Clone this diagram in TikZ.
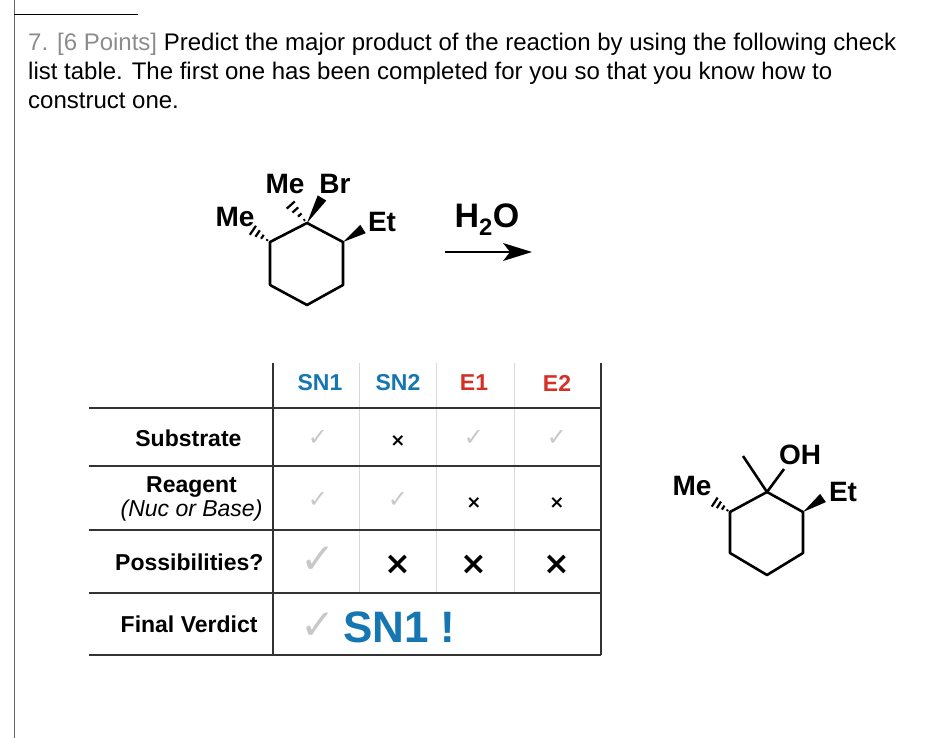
\documentclass[tikz,border=0pt]{standalone}
\usepackage{fontspec}
\setmainfont{Liberation Sans}
\newfontfamily\djsym{DejaVu Sans}
\usetikzlibrary{calc}
\definecolor{sblue}{RGB}{22,118,178}
\definecolor{ered}{RGB}{212,48,38}
\definecolor{ptgray}{RGB}{140,140,140}
\definecolor{ckgray}{RGB}{200,200,200}
\newcommand{\hashb}[2]{\foreach \t in {0.15,0.4,0.65,0.9}{\draw[line width=2.2pt] ($(#1)!\t!(#2)!{\t*6pt}!90:(#2)$) -- ($(#1)!\t!(#2)!{\t*6pt}!-90:(#2)$);}}
\newcommand{\wedgeb}[2]{\fill (#1) -- ($(#2)!5pt!90:(#1)$) -- ($(#2)!5pt!-90:(#1)$) -- cycle;}
\begin{document}
\begin{tikzpicture}[x=1pt,y=-1pt,
  bond/.style={line width=2.6pt,line join=round},
  atom/.style={font=\fontsize{28}{28}\bfseries\selectfont,inner sep=0pt},
  hdr/.style={font=\fontsize{23}{23}\bfseries\selectfont},
  rowl/.style={font=\fontsize{23}{26}\bfseries\selectfont,anchor=east,align=center},
  ck/.style={font=\djsym\fontsize{24}{24}\selectfont,text=ckgray},
  bigck/.style={font=\djsym\fontsize{42}{42}\bfseries\selectfont,text=ckgray},
  sx/.style={font=\djsym\fontsize{18}{18}\bfseries\selectfont},
  bx/.style={font=\djsym\fontsize{32}{32}\bfseries\selectfont},
  tline/.style={line width=1.1pt,draw=black!80},
  gline/.style={line width=0.8pt,draw=black!15}]
\useasboundingbox (0,0) rectangle (940,738);
% frame
\draw[line width=0.8pt,black!60] (14,0) -- (14,738);
\draw[line width=1pt] (14,15) -- (138,15);
% question text
\node[anchor=base west,inner sep=0pt,font=\fontsize{24}{24}\selectfont] (q1) at (28,51) {\textcolor{ptgray}{7. [6 Points]} Predict the major product of the reaction by using the following check};
\node[anchor=base west,inner sep=0pt,font=\fontsize{24}{24}\selectfont] (q2) at (28,80) {list table. The first one has been completed for you so that you know how to};
\node[anchor=base west,inner sep=0pt,font=\fontsize{24}{24}\selectfont] (q3) at (28,109) {construct one.};
% reactant
\coordinate (a1) at (307,223); \coordinate (a2) at (343,242); \coordinate (a3) at (343,285);
\coordinate (a4) at (307,305); \coordinate (a5) at (270,285); \coordinate (a6) at (270,242);
\draw[bond] (a1)--(a2)--(a3)--(a4)--(a5)--(a6)--cycle;
\coordinate (abr) at (322,198); \wedgeb{a1}{abr}
\coordinate (ame) at (289,203); \hashb{a1}{ame}
\coordinate (aet) at (363,229); \wedgeb{a2}{aet}
\coordinate (ame2) at (251,229); \hashb{a6}{ame2}
\node[atom] (tMe) at (285,184) {Me};
\node[atom] (tBr) at (335,184) {Br};
\node[atom] (tEt) at (382,222) {Et};
\node[atom] (tMe2) at (235,217) {Me};
\node[atom,font=\fontsize{34}{34}\bfseries\selectfont] (h2o) at (487,220) {H\textsubscript{2}O};
\coordinate (ar1) at (445,252); \coordinate (ar2) at (532,252);
\draw[line width=2.8pt] (ar1) -- (510,252);
\fill (ar2) -- (503,243) -- (510,252) -- (503,261) -- cycle;
% product
\coordinate (b1) at (767,492); \coordinate (b2) at (803,512); \coordinate (b3) at (803,553);
\coordinate (b4) at (767,575); \coordinate (b5) at (730,553); \coordinate (b6) at (730,512);
\draw[bond] (b1)--(b2)--(b3)--(b4)--(b5)--(b6)--cycle;
\coordinate (bme) at (743,456); \draw[bond] (b1)--(bme);
\coordinate (boh) at (784,469); \draw[bond] (b1)--(boh);
\coordinate (bet) at (823,498); \wedgeb{b2}{bet}
\coordinate (bme2) at (713,501); \hashb{b6}{bme2}
\node[atom] (pOH) at (800,455) {OH};
\node[atom] (pEt) at (843,492) {Et};
\node[atom] (pMe) at (692,486) {Me};
% table
\draw[tline] (273,363) -- (273,655);
\draw[tline] (601,363) -- (601,655);
\foreach \x in {359,436,514} \draw[gline] (\x,363) -- (\x,593);
\foreach \y in {408,466,530,593,655} \draw[tline] (89,\y) -- (601,\y);
\node[hdr,text=sblue] (hsn1) at (320,383) {SN1};
\node[hdr,text=sblue] (hsn2) at (398,383) {SN2};
\node[hdr,text=ered] (he1) at (474,383) {E1};
\node[hdr,text=ered] (he2) at (557,383) {E2};
\node[rowl] (r1) at (245,438) {Substrate};
\node[rowl] (r2) at (266,499) {Reagent\\[-2pt]\normalfont\itshape\fontsize{23}{26}\selectfont (Nuc or Base)};
\node[rowl] (r3) at (267,562) {Possibilities?};
\node[rowl] (r4) at (261,624) {Final Verdict};
\node[ck] (c11) at (318,438) {✓};
\node[sx] (c12) at (398,441) {×};
\node[ck] (c13) at (474,438) {✓};
\node[ck] (c14) at (557,438) {✓};
\node[ck] (c21) at (318,500) {✓};
\node[ck] (c22) at (398,500) {✓};
\node[sx] (c23) at (474,503) {×};
\node[sx] (c24) at (557,503) {×};
\node[bigck] (c31) at (318,560) {✓};
\node[bx] (c32) at (398,565) {×};
\node[bx] (c33) at (474,565) {×};
\node[bx] (c34) at (557,565) {×};
\node[bigck] (v1) at (318,626) {✓};
\node[font=\fontsize{44}{44}\bfseries\selectfont,text=sblue,anchor=west,inner sep=0pt] (v2) at (343,627) {SN1 !};
\end{tikzpicture}
\end{document}
